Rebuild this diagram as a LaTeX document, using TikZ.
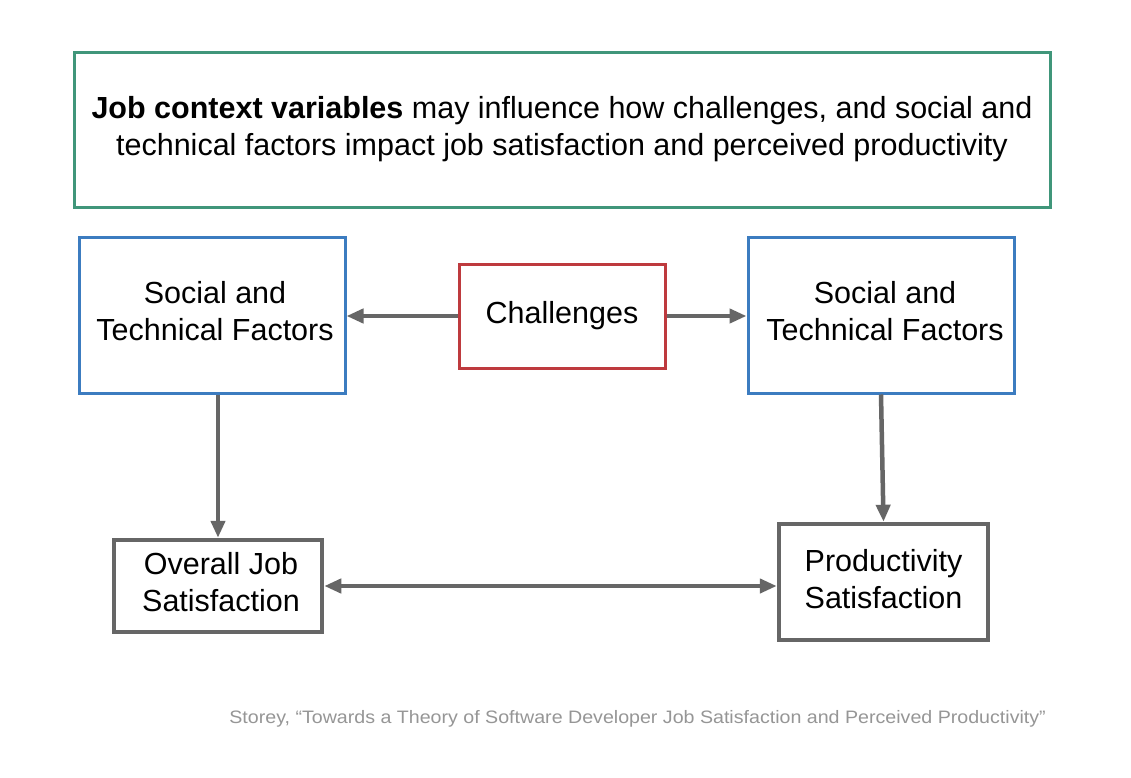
\documentclass[tikz,border=0pt]{standalone}
\usepackage{fontspec}
\setmainfont{Liberation Sans}
\usetikzlibrary{arrows.meta}
\definecolor{boxgreen}{RGB}{64,150,122}
\definecolor{boxblue}{RGB}{60,124,192}
\definecolor{boxred}{RGB}{190,58,62}
\definecolor{boxgray}{RGB}{102,102,102}
\definecolor{capgray}{RGB}{150,150,150}
\tikzset{
  basebox/.style={draw, rectangle, inner sep=0pt},
  boxtext/.style={align=center, inner sep=0pt, text=black,
    font=\fontsize{30.5}{37}\selectfont},
  bluebox/.style={basebox, draw=boxblue, line width=3pt},
  redbox/.style={basebox, draw=boxred, line width=3pt},
  graybox/.style={basebox, draw=boxgray, line width=4.5pt},
  greenbox/.style={basebox, draw=boxgreen, line width=3pt},
  conn/.style={draw=boxgray, line width=4.5pt, -{Triangle[length=17pt,width=14pt]}},
  conn2/.style={draw=boxgray, line width=4.5pt, {Triangle[length=17pt,width=14pt]}-{Triangle[length=17pt,width=14pt]}},
}
\begin{document}
\begin{tikzpicture}[x=1pt,y=-1pt]
\useasboundingbox[fill=white] (0,0) rectangle (1131,778);
\node[greenbox, minimum width=976pt, minimum height=154pt,
  label={[boxtext, yshift=0.5pt]center:{\textbf{Job context variables} may influence how challenges, and social and\\
   technical factors impact job satisfaction and perceived productivity}}] (ctx) at (562,130) {};
\node[bluebox, minimum width=266pt, minimum height=156pt,
  label={[boxtext, xshift=3pt, yshift=4pt]center:{Social and\\Technical Factors}}] (stl) at (212,315) {};
\node[redbox, minimum width=206pt, minimum height=104pt,
  label={[boxtext]center:{Challenges}}] (ch) at (562,316) {};
\node[bluebox, minimum width=266pt, minimum height=156pt,
  label={[boxtext, xshift=4pt, yshift=4pt]center:{Social and\\Technical Factors}}] (str) at (881,315) {};
\node[graybox, minimum width=208pt, minimum height=92pt,
  label={[boxtext, xshift=3pt, yshift=4pt]center:{Overall Job\\Satisfaction}}] (ojs) at (218,586) {};
\node[graybox, minimum width=209pt, minimum height=116pt,
  label={[boxtext, yshift=2.5pt]center:{Productivity\\Satisfaction}}] (ps) at (883.5,582) {};
\draw[conn] (ch.west) -- (ch.west -| stl.east);
\draw[conn] (ch.east) -- (ch.east -| str.west);
\draw[conn] (stl.south -| ojs.north) -- (ojs.north);
\draw[conn] (str.south) -- (ps.north);
\draw[conn2] (ojs.east) -- (ojs.east -| ps.west);
\node[anchor=base east, inner sep=0pt, text=capgray,
  font=\addfontfeature{FakeStretch=1.09}\fontsize{18}{20}\selectfont] (cap) at (1046,723)
  {Storey, “Towards a Theory of Software Developer Job Satisfaction and Perceived Productivity”};
\end{tikzpicture}
\end{document}
